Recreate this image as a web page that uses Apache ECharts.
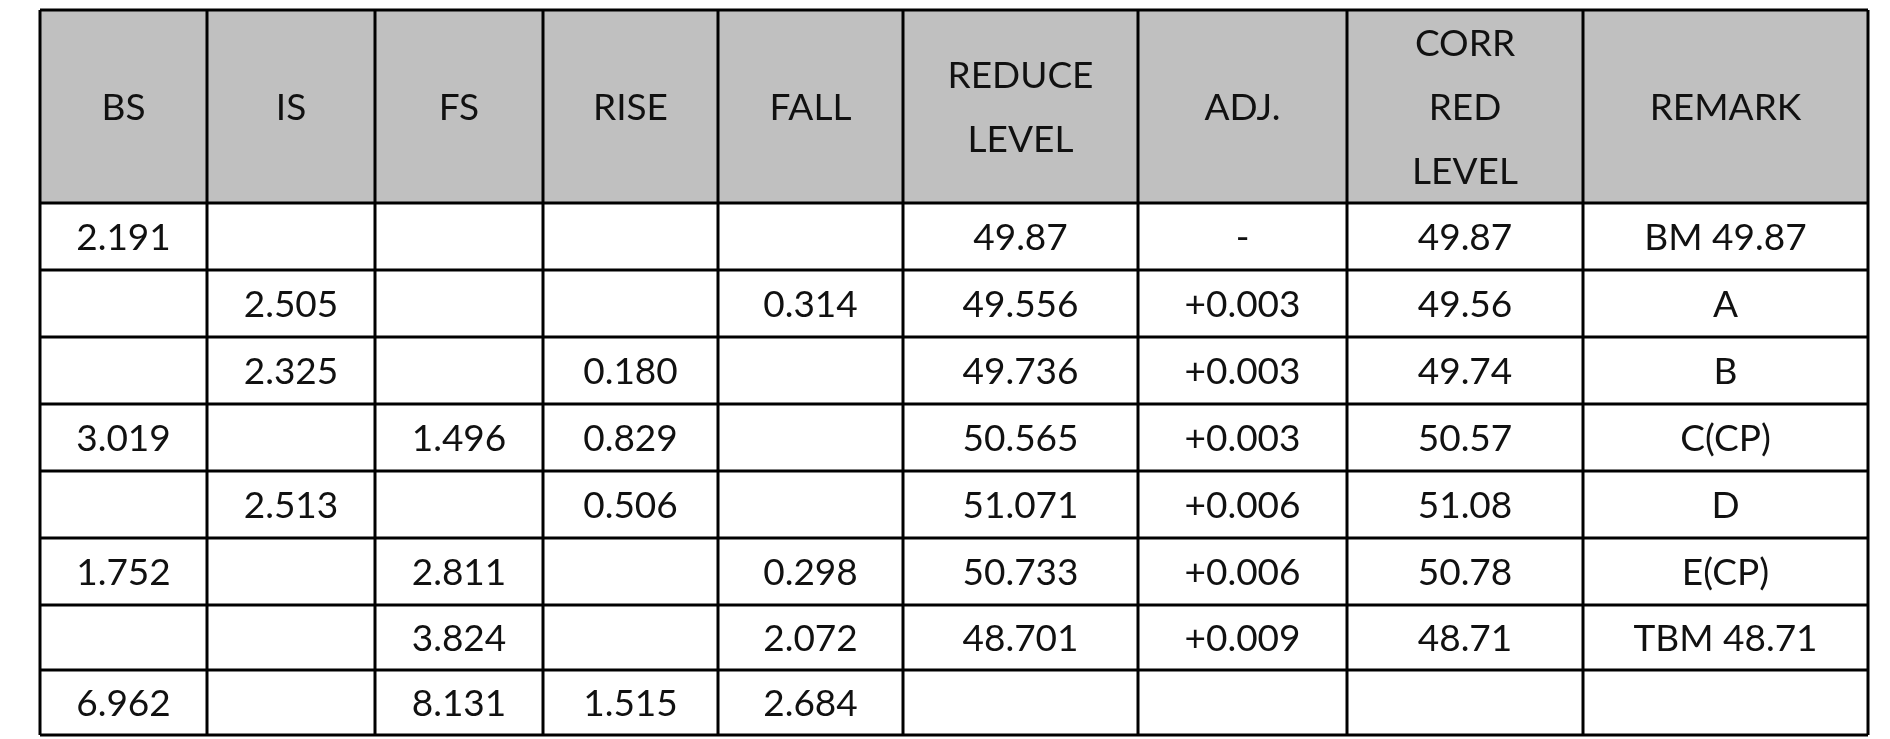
<!DOCTYPE html>
<html>
<head>
<meta charset="utf-8">
<script src="https://cdn.jsdelivr.net/npm/echarts@6/dist/echarts.min.js"></script>
<style>
  html, body { margin: 0; padding: 0; background: #fff; }
  #chart { width: 1890px; height: 739px; }
</style>
</head>
<body>
<div id="chart"></div>
<script>
const headers = ["BS", "IS", "FS", "RISE", "FALL", "REDUCE\nLEVEL", "ADJ.", "CORR\nRED\nLEVEL", "REMARK"];
const bs = ["2.191", "", "", "3.019", "", "1.752", "", "6.962"];
const is = ["", "2.505", "2.325", "", "2.513", "", "", ""];
const fs = ["", "", "", "1.496", "", "2.811", "3.824", "8.131"];
const rise = ["", "", "0.180", "0.829", "0.506", "", "", "1.515"];
const fall = ["", "0.314", "", "", "", "0.298", "2.072", "2.684"];
const reduceLevel = ["49.87", "49.556", "49.736", "50.565", "51.071", "50.733", "48.701", ""];
const adj = ["-", "+0.003", "+0.003", "+0.003", "+0.006", "+0.006", "+0.009", ""];
const corrLevel = ["49.87", "49.56", "49.74", "50.57", "51.08", "50.78", "48.71", ""];
const remark = ["BM 49.87", "A", "B", "C(CP)", "D", "E(CP)", "TBM 48.71", ""];

const columns = [bs, is, fs, rise, fall, reduceLevel, adj, corrLevel, remark];
const colX = [40, 207, 375, 543, 718, 903, 1138, 1347, 1583, 1868];
const rowY = [10, 203, 270, 337, 404, 471, 538, 605, 670, 735];

const chart = echarts.init(document.getElementById('chart'));
const els = [];
const font = 'Lato, "Open Sans", sans-serif';

// header background
els.push({ type: 'rect', shape: { x: colX[0], y: rowY[0], width: colX[9] - colX[0], height: rowY[1] - rowY[0] },
  style: { fill: '#c0c0c0' } });

function cellText(c, r, text, lines) {
  els.push({
    type: 'text',
    x: (colX[c] + colX[c + 1]) / 2,
    y: (rowY[r] + rowY[r + 1]) / 2 + 2,
    style: { text: text, fill: '#111', font: '37px ' + font, align: 'center', verticalAlign: 'middle', lineHeight: 64 }
  });
}

headers.forEach((h, c) => cellText(c, 0, h));
columns.forEach((col, c) => col.forEach((v, r) => { if (v) cellText(c, r + 1, v); }));

// grid lines
colX.forEach(x => els.push({ type: 'line', shape: { x1: x, y1: rowY[0], x2: x, y2: rowY[9] },
  style: { stroke: '#000', lineWidth: 3 } }));
rowY.forEach(y => els.push({ type: 'line', shape: { x1: colX[0], y1: y, x2: colX[9], y2: y },
  style: { stroke: '#000', lineWidth: 3 } }));

chart.setOption({ animation: false, graphic: { elements: els } });
</script>
</body>
</html>
